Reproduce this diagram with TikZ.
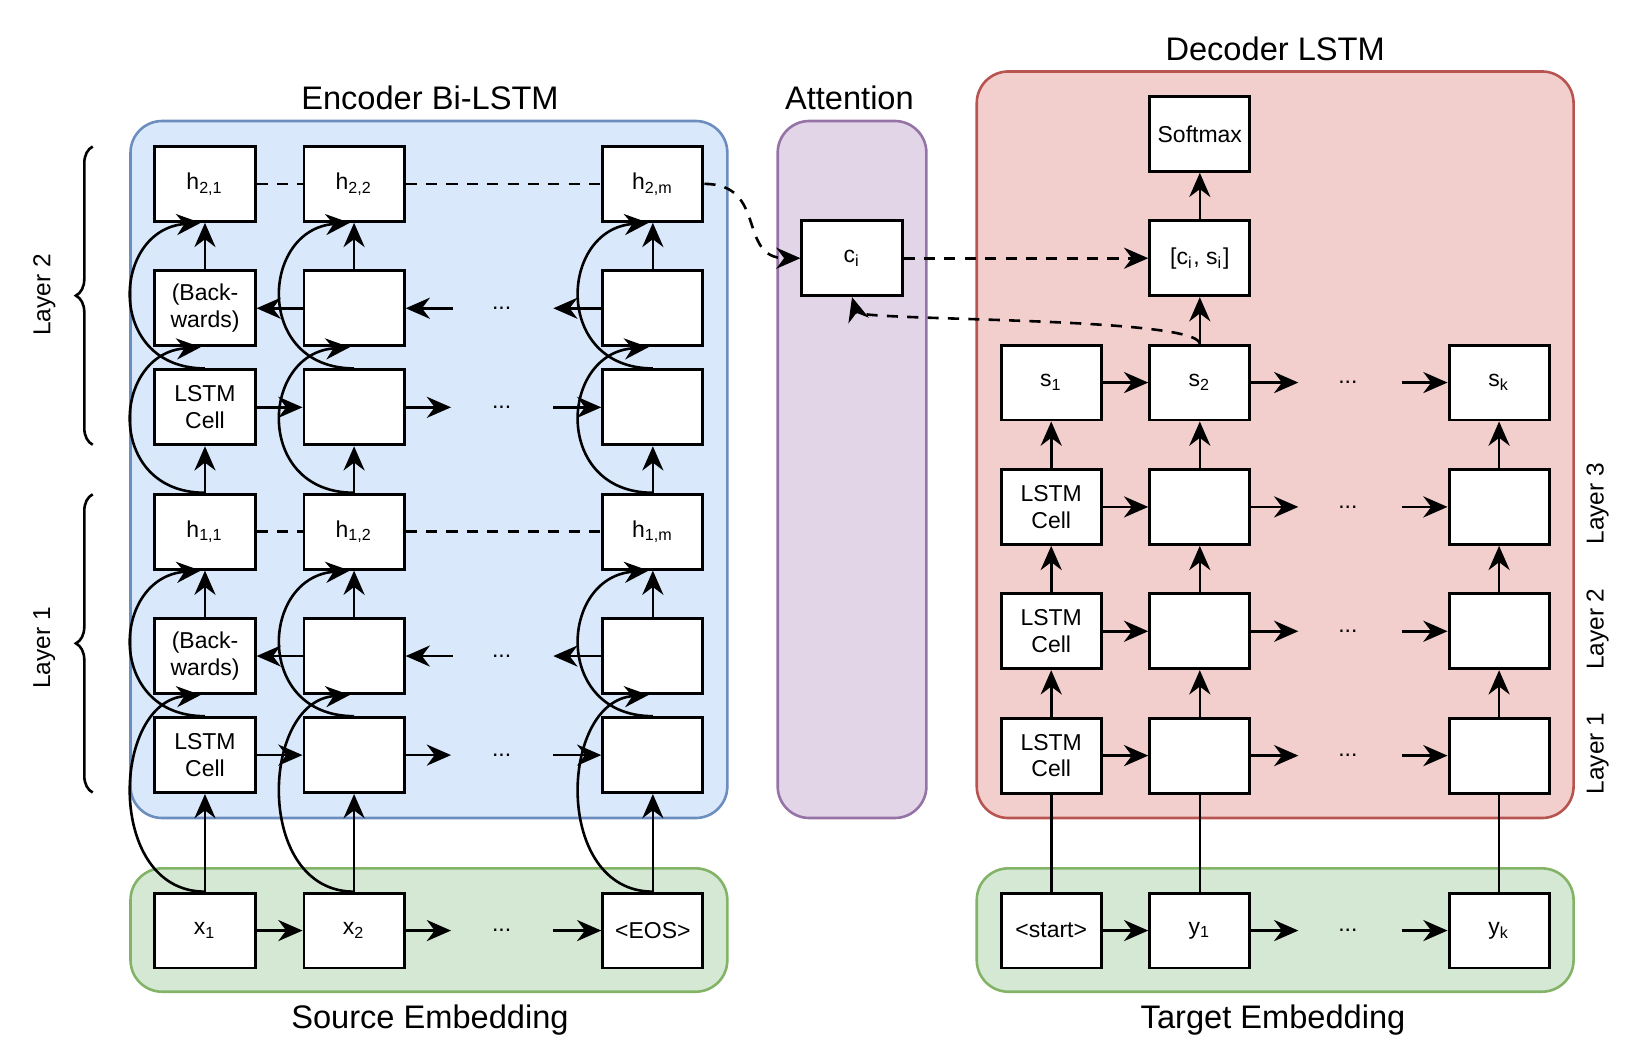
\documentclass[tikz,border=0pt]{standalone}
\usepackage{fontspec}
\setmainfont{Liberation Sans}
\usetikzlibrary{arrows.meta,calc,decorations.pathreplacing}
\definecolor{encf}{HTML}{DAE8FC}\definecolor{encd}{HTML}{6C8EBF}
\definecolor{grf}{HTML}{D5E8D4}\definecolor{grd}{HTML}{82B366}
\definecolor{atf}{HTML}{E1D5E7}\definecolor{atd}{HTML}{9673A6}
\definecolor{ref}{HTML}{F2CFCD}\definecolor{red}{HTML}{B85450}
\begin{document}
\begin{tikzpicture}[x=0.01cm,y=-0.01cm,
 box/.style={draw,fill=white,minimum width=0.95cm,minimum height=0.71cm,inner sep=0pt,line width=0.8pt,font=\fontsize{6.2}{7.2}\selectfont,align=center},
 grp/.style={rounded corners=0.3cm,line width=0.7pt},
 ar/.style={-{Stealth[length=2.3mm,width=2mm]},line width=0.7pt},
 ln/.style={line width=0.7pt},
 dsh/.style={dashed,dash pattern=on 3pt off 2.5pt,line width=0.7pt},
 ttl/.style={font=\fontsize{8.8}{10}\selectfont},
 dts/.style={font=\fontsize{6.2}{7.2}\selectfont},
 lay/.style={font=\fontsize{6.6}{8}\selectfont,rotate=90}]
\useasboundingbox (0,0) rectangle (1560,1002);
% groups
\node[grp,draw=encd,fill=encf,minimum width=5.66cm,minimum height=6.61cm] (enc) at (407,445.5) {};
\node[grp,draw=grd,fill=grf,minimum width=5.66cm,minimum height=1.17cm] (src) at (407,882.5) {};
\node[grp,draw=atd,fill=atf,minimum width=1.41cm,minimum height=6.61cm] (att) at (808.5,445.5) {};
\node[grp,draw=red,fill=ref,minimum width=5.66cm,minimum height=7.08cm] (dec) at (1210,422) {};
\node[grp,draw=grd,fill=grf,minimum width=5.66cm,minimum height=1.17cm] (tgt) at (1210,882.5) {};
\node[ttl] (t1) at (408,93) {Encoder Bi-LSTM};
\node[ttl] (t2) at (806,93) {Attention};
\node[ttl] (t3) at (1210,46) {Decoder LSTM};
\node[ttl] (t4) at (408,968) {Source Embedding};
\node[ttl] (t5) at (1208,968) {Target Embedding};
% encoder nodes
\foreach \n/\cx/\xt/\hi/\lt/\bt in {a/194.5/{x\textsubscript{1}}/1/{LSTM\\Cell}/{(Back-\\wards)},b/336/{x\textsubscript{2}}/2/{}/{},c/619.5/{<EOS>}/m/{}/{}}{
 \node[box] (x\n) at (\cx,883) {\xt};
 \node[box] (l1\n) at (\cx,716.5) {\lt};
 \node[box] (k1\n) at (\cx,622.5) {\bt};
 \node[box] (h1\n) at (\cx,504.5) {h\textsubscript{1,\hi}};
 \node[box] (l2\n) at (\cx,386.5) {\lt};
 \node[box] (k2\n) at (\cx,292.5) {\bt};
 \node[box] (h2\n) at (\cx,174.5) {h\textsubscript{2,\hi}};
 \draw[ar] (x\n) -- (l1\n);
 \draw[ar] (k1\n) -- (h1\n);
 \draw[ar] (h1\n) -- (l2\n);
 \draw[ar] (k2\n) -- (h2\n);
 \draw[ar] (x\n.north) .. controls +(-95,0) and +(-85,6) .. ($(k1\n.south)+(-4,0)$);
 \draw[ar] (l1\n.north) .. controls +(-95,0) and +(-85,6) .. ($(h1\n.south)+(-4,0)$);
 \draw[ar] (h1\n.north) .. controls +(-95,0) and +(-85,6) .. ($(k2\n.south)+(-4,0)$);
 \draw[ar] (l2\n.north) .. controls +(-95,0) and +(-85,6) .. ($(h2\n.south)+(-4,0)$);
}
\foreach \r/\y in {x/883,l1/716.5,l2/386.5}{
 \coordinate (\r e1) at (428,\y); \coordinate (\r e2) at (525,\y);
 \draw[ar] (\r a) -- (\r b);
 \draw[ar] (\r b) -- (\r e1);
 \draw[ar] (\r e2) -- (\r c);
 \node[dts] (\r dt) at (476,\y) {...};
}
\foreach \r/\y in {k1/622.5,k2/292.5}{
 \coordinate (\r e1) at (430,\y); \coordinate (\r e2) at (525,\y);
 \draw[ar] (\r b) -- (\r a);
 \draw[ar] (\r e1) -- (\r b);
 \draw[ar] (\r c) -- (\r e2);
 \node[dts] (\r dt) at (476,\y) {...};
}
\foreach \r in {h1,h2}{\draw[dsh] (\r a) -- (\r b) -- (\r c);}
% attention
\node[box] (ci) at (808.5,245) {c\textsubscript{i}};
\draw[dsh,ar] (h2c.east) .. controls +(60,0) and +(-60,0) .. (ci.west);
% decoder
\foreach \n/\cx/\it/\st/\lt in {p/997.5/{<start>}/{s\textsubscript{1}}/{LSTM\\Cell},q/1138.5/{y\textsubscript{1}}/{s\textsubscript{2}}/{},r/1422.5/{y\textsubscript{k}}/{s\textsubscript{k}}/{}}{
 \node[box] (in\n) at (\cx,883) {\it};
 \node[box] (d1\n) at (\cx,717) {\lt};
 \node[box] (d2\n) at (\cx,599) {\lt};
 \node[box] (d3\n) at (\cx,481) {\lt};
 \node[box] (s\n) at (\cx,363) {\st};
 \draw[ln] (in\n) -- (d1\n);
 \draw[ar] (d1\n) -- (d2\n);
 \draw[ar] (d2\n) -- (d3\n);
 \draw[ar] (d3\n) -- (s\n);
}
\foreach \r/\y in {in/883,d1/717,d2/599,d3/481,s/363}{
 \coordinate (\r e1) at (1232,\y); \coordinate (\r e2) at (1330,\y);
 \draw[ar] (\r p) -- (\r q);
 \draw[ar] (\r q) -- (\r e1);
 \draw[ar] (\r e2) -- (\r r);
 \node[dts] (\r dt) at (1279,\y) {...};
}
\node[box] (cs) at (1138.5,245) {[c\textsubscript{i}, s\textsubscript{i}]};
\node[box] (sm) at (1138.5,127) {Softmax};
\draw[ar] (sq) -- (cs);
\draw[ar] (cs) -- (sm);
\draw[dsh,ar] (ci) -- (cs);
\draw[dsh,ar] (sq.north) .. controls (1135,300) and (815,305) .. (ci.south);
% braces
\coordinate (b2a) at (88,422); \coordinate (b2b) at (88,139);
\coordinate (b1a) at (88,752); \coordinate (b1b) at (88,469);
\draw[decorate,decoration={brace,amplitude=1.6mm},line width=0.7pt] (b2a) -- (b2b);
\draw[decorate,decoration={brace,amplitude=1.6mm},line width=0.7pt] (b1a) -- (b1b);
\node[lay] (L2) at (42,280) {Layer 2};
\node[lay] (L1) at (42,615) {Layer 1};
\node[lay] (R3) at (1516,478) {Layer 3};
\node[lay] (R2) at (1516,597) {Layer 2};
\node[lay] (R1) at (1516,715) {Layer 1};
\end{tikzpicture}
\end{document}
